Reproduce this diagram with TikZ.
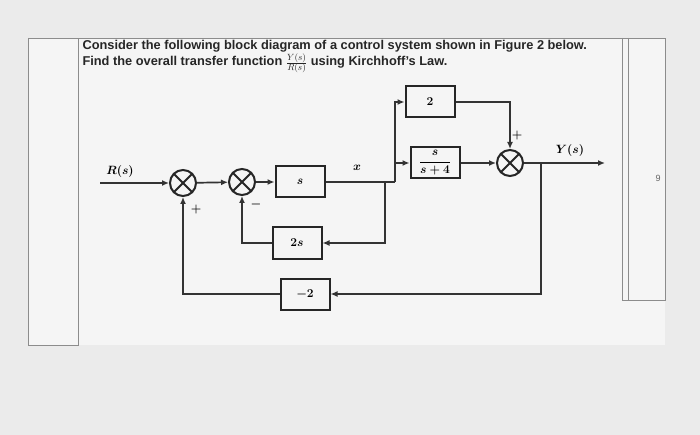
\documentclass[tikz,border=0pt]{standalone}
\usepackage{fontspec}
\setmainfont{Liberation Sans}
\usepackage{amsmath}
\usetikzlibrary{arrows.meta}
\begin{document}
\begin{tikzpicture}[x=1pt,y=-1pt,
  blk/.style={draw=black!85,line width=2pt,minimum width=49pt,minimum height=31pt,inner sep=0pt,font=\boldmath\fontsize{12}{13}\selectfont},
  sum/.style={draw=black!85,line width=2pt,circle,minimum size=26pt,inner sep=0pt,
    path picture={\draw[line width=2pt] (path picture bounding box.north west)--(path picture bounding box.south east)
      (path picture bounding box.north east)--(path picture bounding box.south west);}},
  wire/.style={draw=black!80,line width=1.7pt},
  arr/.style={wire,-{Latex[length=7pt,width=6pt]}},
  lbl/.style={font=\boldmath\fontsize{12}{13}\selectfont}]
\fill[black!8] (0,0) rectangle (700,435);
\fill[white!96!black] (28,38) rectangle (665,345);
\useasboundingbox (0,0) rectangle (700,435);
\draw[black!45,line width=0.8pt] (28,38)--(665,38) (28,38)--(28,345)--(78,345)--(78,38)
  (622,38)--(622,300)--(665,300)--(665,38) (628,38)--(628,300);
\node[anchor=west,font=\bfseries\fontsize{12.8}{14}\selectfont,text=black!85] (t1) at (79,46) {Consider the following block diagram of a control system shown in Figure 2 below.};
\node[anchor=west,font=\bfseries\fontsize{12.8}{14}\selectfont,text=black!85] (t2) at (79,63) {Find the overall transfer function $\frac{Y(s)}{R(s)}$ using Kirchhoff's Law.};
\node[text=black!60,font=\small] (n9) at (658,178) {9};
% diagram
\coordinate (in) at (100,183);
\node[sum] (s1) at (183,183) {};
\node[sum] (s2) at (242,182) {};
\node[blk] (bs) at (300,182) {$s$};
\node[blk] (b2s) at (297,243) {$2s$};
\node[blk] (b2) at (430,102) {$2$};
\node[blk] (bf) at (435,163) {$\dfrac{s}{s+4}$};
\node[sum] (s3) at (510,163) {};
\node[blk] (bm2) at (305,294) {$-2$};
\coordinate (out) at (605,163);
\coordinate (j1) at (385,182);
\coordinate (j2) at (395,182);
\coordinate (j3) at (541,163);
\draw[arr] (in) -- (s1);
\draw[arr] (s1) -- (s2);
\draw[arr] (s2) -- (bs);
\draw[wire] (bs) -- (j2);
\draw[arr] (j2) |- (bf.west);
\draw[arr] (j2) |- (b2.west);
\draw[arr] (b2.east) -| (s3.north);
\draw[arr] (bf.east) -- (s3.west);
\draw[arr] (s3.east) -- (out);
\draw[arr] (j1) |- (b2s.east);
\draw[arr] (b2s.west) -| (s2.south);
\draw[arr] (j3) |- (bm2.east);
\draw[arr] (bm2.west) -| (s1.south);
\node[lbl] (lR) at (120,172) {$R(s)$};
\node[lbl] (lx) at (357,168) {$x$};
\node[lbl] (lY) at (570,151) {$Y(s)$};
\node[lbl] (p1) at (196,210) {$+$};
\node[lbl] (m2) at (256,205) {$-$};
\node[lbl] (p3) at (517,136) {$+$};
\end{tikzpicture}
\end{document}
